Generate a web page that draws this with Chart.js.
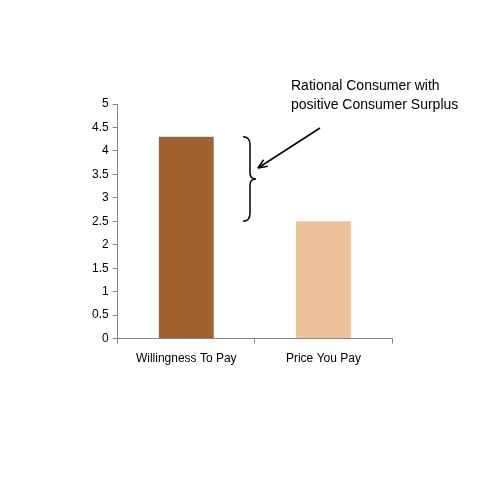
<!DOCTYPE html>
<html><head><meta charset="utf-8">
<script src="https://cdn.jsdelivr.net/npm/chart.js@4"></script>
<style>html,body{margin:0;padding:0;background:#fff}#w{width:480px;height:480px}</style>
</head><body><div id="w"><canvas id="c"></canvas></div>
<script>
const categories = ["Willingness To Pay", "Price You Pay"];
const values = [4.3, 2.5];
const barColors = ["#A0632F", "#EFC29E"];
const annotationLines = ["Rational Consumer with", "positive Consumer Surplus"];
const FONT = "'Liberation Sans Narrow', 'Liberation Sans', Arial, sans-serif";

const annot = {
  id: 'annot',
  afterDraw(chart) {
    const ctx = chart.ctx, y = chart.scales.y;
    const yTop = y.getPixelForValue(values[0]), yBot = y.getPixelForValue(values[1]);
    const xB = 243, mid = (yTop + yBot) / 2;
    ctx.save();
    ctx.strokeStyle = '#000'; ctx.lineWidth = 1.5;
    ctx.beginPath();
    ctx.moveTo(xB, yTop);
    ctx.quadraticCurveTo(xB + 7, yTop, xB + 7, yTop + 8);
    ctx.lineTo(xB + 7, mid - 6);
    ctx.quadraticCurveTo(xB + 7, mid, xB + 13, mid);
    ctx.quadraticCurveTo(xB + 7, mid, xB + 7, mid + 6);
    ctx.lineTo(xB + 7, yBot - 8);
    ctx.quadraticCurveTo(xB + 7, yBot, xB, yBot);
    ctx.stroke();
    const x1 = 320, y1 = 128, x2 = 258, y2 = 168;
    ctx.beginPath(); ctx.moveTo(x1, y1); ctx.lineTo(x2, y2); ctx.stroke();
    const a = Math.atan2(y2 - y1, x2 - x1);
    ctx.beginPath();
    ctx.moveTo(x2, y2);
    ctx.lineTo(x2 - 10 * Math.cos(a - 0.4), y2 - 10 * Math.sin(a - 0.4));
    ctx.moveTo(x2, y2);
    ctx.lineTo(x2 - 10 * Math.cos(a + 0.4), y2 - 10 * Math.sin(a + 0.4));
    ctx.stroke();
    ctx.fillStyle = '#000'; ctx.font = '14px ' + FONT; ctx.textBaseline = 'middle';
    ctx.fillText(annotationLines[0], 291, 86);
    ctx.fillText(annotationLines[1], 291, 105);
    ctx.restore();
  }
};

new Chart(document.getElementById('c'), {
  type: 'bar',
  data: { labels: categories, datasets: [{ data: values, backgroundColor: barColors, barPercentage: 0.4, categoryPercentage: 1 }] },
  options: {
    responsive: true, maintainAspectRatio: false, animation: false,
    layout: { padding: { left: 88, right: 88, top: 104, bottom: 106 } },
    plugins: { legend: { display: false }, tooltip: { enabled: false } },
    scales: {
      y: {
        min: 0, max: 5,
        ticks: { stepSize: 0.5, color: '#000', font: { family: FONT, size: 12 }, padding: 4,
                 callback: v => String(Math.round(v * 10) / 10) },
        grid: { drawOnChartArea: false, tickLength: 5, color: '#888' },
        border: { color: '#888' }
      },
      x: {
        ticks: { color: '#000', font: { family: FONT, size: 12 }, padding: 8 },
        grid: { drawOnChartArea: false, tickLength: 5, color: '#888', offset: true },
        border: { color: '#888' }
      }
    }
  },
  plugins: [annot]
});
</script></body></html>
